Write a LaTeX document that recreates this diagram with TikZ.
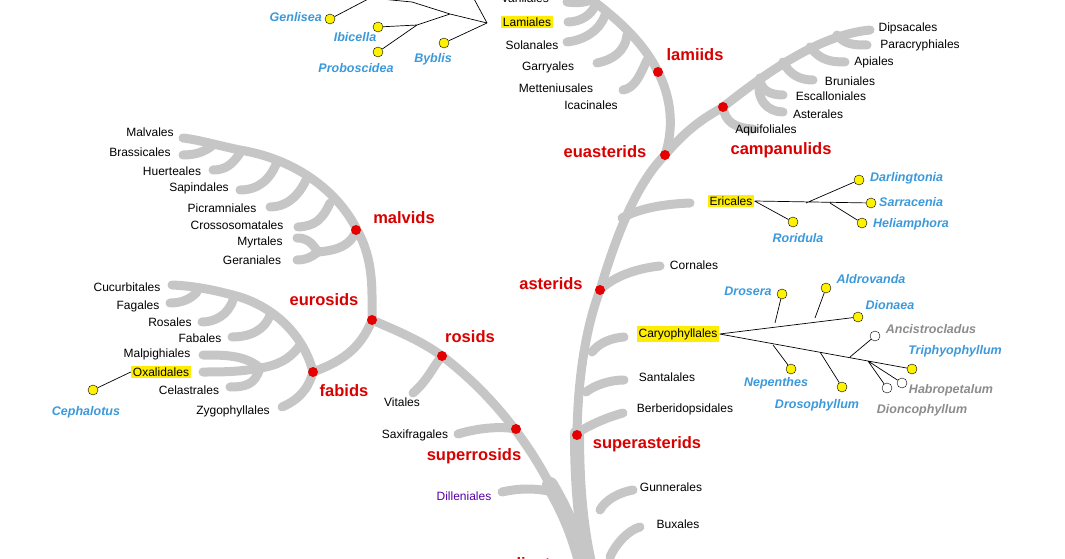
\documentclass[tikz,border=0pt]{standalone}
\usepackage{fontspec}
\setmainfont{Liberation Sans}
\begin{document}
\begin{tikzpicture}[x=1pt,y=-1pt,
  br/.style={draw=gray!45,line width=9pt,line cap=round,line join=round},
  lab/.style={font=\fontsize{12}{14}\selectfont,inner sep=1pt},
  hl/.style={lab,fill=yellow!95!orange,inner sep=2pt},
  cl/.style={font=\bfseries\fontsize{16.5}{18}\selectfont,text=red!85!black},
  sp/.style={font=\bfseries\itshape\fontsize{12.5}{14}\selectfont,text=cyan!70!blue!80!white,inner sep=1pt},
  sg/.style={sp,text=gray!90},
  rd/.style={circle,fill=red!90!black,inner sep=0pt,minimum size=10pt},
  yd/.style={circle,draw=black,fill=yellow,inner sep=0pt,minimum size=10pt},
  wd/.style={circle,draw=black,fill=white,inner sep=0pt,minimum size=10pt},
  tl/.style={draw=black,line width=0.7pt}]
\useasboundingbox (0,0) rectangle (1065,559);
\clip (0,0) rectangle (1065,559);
% ---------- gray tree ----------
\draw[br,line width=16pt] (585,575) .. controls (578,540) and (565,510) .. (550,485);
\draw[br] (550,485) .. controls (535,455) and (500,400) .. (442,356) .. controls (420,340) and (395,330) .. (372,320);
\draw[br,line width=14pt] (592,575) .. controls (580,530) and (577,480) .. (577,433);
\draw[br] (577,433) .. controls (578,380) and (585,330) .. (600,290) .. controls (615,240) and (635,185) .. (665,155);
\draw[br] (665,155) .. controls (675,125) and (670,95) .. (658,72) .. controls (645,45) and (620,20) .. (585,-5);
\draw[br] (665,155) .. controls (690,125) and (710,115) .. (723,107) .. controls (770,70) and (820,35) .. (870,30);
% campanulid branches
\draw[br] (837,35) .. controls (845,45) and (855,45) .. (867,45);
\draw[br] (810,47) .. controls (820,60) and (830,62) .. (845,62);
\draw[br] (783,62) .. controls (790,75) and (800,80) .. (813,80);
\draw[br] (760,78) .. controls (760,90) and (770,95) .. (783,95);
\draw[br] (760,78) .. controls (755,100) and (768,112) .. (783,112);
\draw[br] (723,107) .. controls (725,122) and (735,128) .. (753,129);
% lamiid branches
\draw[br] (647,60) .. controls (640,75) and (635,88) .. (623,90);
\draw[br] (627,35) .. controls (625,52) and (612,60) .. (597,63);
\draw[br] (605,15) .. controls (600,30) and (585,40) .. (567,42);
\draw[br] (595,5) .. controls (592,15) and (580,22) .. (568,22);
\draw[br] (590,0) .. controls (585,3) and (575,3) .. (567,2);
% asterid side branches
\draw[br] (622,218) .. controls (640,208) and (665,204) .. (690,203);
\draw[br] (600,290) .. controls (615,275) and (640,268) .. (660,266);
\draw[br] (592,352) .. controls (600,342) and (612,338) .. (624,337);
\draw[br] (586,392) .. controls (595,385) and (610,380) .. (624,380);
\draw[br] (577,433) .. controls (590,425) and (605,418) .. (623,413);
\draw[br] (600,510) .. controls (605,500) and (620,492) .. (633,490);
\draw[br] (610,557) .. controls (615,545) and (628,530) .. (640,527);
% rosid side branches
\draw[br] (553,492) .. controls (535,488) and (520,488) .. (502,492);
\draw[br] (516,429) .. controls (500,426) and (478,428) .. (458,434);
\draw[br] (442,356) .. controls (432,368) and (428,380) .. (413,393);
% eurosids
\draw[br] (372,320) .. controls (372,290) and (374,260) .. (357,230) .. controls (340,195) and (300,160) .. (240,150) .. controls (220,146) and (200,140) .. (183,138);
\draw[br] (213,145) .. controls (205,152) and (195,155) .. (183,155);
\draw[br] (240,153) .. controls (232,165) and (225,170) .. (213,170);
\draw[br] (277,162) .. controls (270,180) and (258,190) .. (240,190);
\draw[br] (307,178) .. controls (298,198) and (285,207) .. (270,207);
\draw[br] (330,203) .. controls (322,220) and (315,226) .. (298,227);
\draw[br] (357,230) .. controls (350,245) and (340,250) .. (318,252);
\draw[br] (318,252) .. controls (310,240) and (305,238) .. (297,238);
\draw[br] (318,252) .. controls (310,258) and (305,260) .. (297,260);
% fabids
\draw[br] (372,320) .. controls (360,350) and (340,362) .. (313,372);
\draw[br] (313,372) .. controls (305,340) and (280,310) .. (240,297) .. controls (215,290) and (195,286) .. (172,285);
\draw[br] (197,292) .. controls (190,300) and (180,303) .. (170,303);
\draw[br] (233,300) .. controls (228,315) and (215,322) .. (202,322);
\draw[br] (270,315) .. controls (265,330) and (250,337) .. (232,337);
\draw[br] (300,345) .. controls (290,360) and (275,366) .. (260,368);
\draw[br] (260,368) .. controls (245,355) and (225,355) .. (203,355);
\draw[br] (260,368) .. controls (240,372) and (220,372) .. (203,372);
\draw[br] (260,368) .. controls (255,385) and (245,387) .. (230,387);
\draw[br] (313,372) .. controls (308,390) and (298,400) .. (282,407);
% ---------- red nodes ----------
\node[rd] (d1) at (658,72) {};
\node[rd] (d2) at (723,107) {};
\node[rd] (d3) at (665,155) {};
\node[rd] (d4) at (600,290) {};
\node[rd] (d5) at (577,435) {};
\node[rd] (d6) at (516,429) {};
\node[rd] (d7) at (442,356) {};
\node[rd] (d8) at (372,320) {};
\node[rd] (d9) at (356,230) {};
\node[rd] (d10) at (313,372) {};
\node[cl] (lamiids) at (695,55) {lamiids};
\node[cl] (euasterids) at (605,152) {euasterids};
\node[cl] (campanulids) at (781,150) {campanulids};
\node[cl] (asterids) at (551,284) {asterids};
\node[cl] (malvids) at (404,218) {malvids};
\node[cl] (eurosids) at (324,300) {eurosids};
\node[cl] (rosids) at (470,337) {rosids};
\node[cl] (fabids) at (344,391) {fabids};
\node[cl] (superrosids) at (474,456) {superrosids};
\node[cl] (superasterids) at (647,444) {superasterids};
\node[cl] (core) at (506,564) {core eudicots};
% ---------- order labels ----------
\node[lab] (malvales) at (150,132) {Malvales};
\node[lab] (brassicales) at (140,152) {Brassicales};
\node[lab] (huerteales) at (172,171) {Huerteales};
\node[lab] (sapindales) at (199,188) {Sapindales};
\node[lab] (picramniales) at (222,208) {Picramniales};
\node[lab] (crossosomatales) at (237,225) {Crossosomatales};
\node[lab] (myrtales) at (260,242) {Myrtales};
\node[lab] (geraniales) at (252,260) {Geraniales};
\node[lab] (cucurbitales) at (127,287) {Cucurbitales};
\node[lab] (fagales) at (138,306) {Fagales};
\node[lab] (rosales) at (170,322) {Rosales};
\node[lab] (fabales) at (200,338) {Fabales};
\node[lab] (malpighiales) at (157,354) {Malpighiales};
\node[hl] (oxalidales) at (161,372) {Oxalidales};
\node[lab] (celastrales) at (189,390) {Celastrales};
\node[lab] (zygophyllales) at (233,411) {Zygophyllales};
\node[lab] (vitales) at (402,402) {Vitales};
\node[lab] (saxifragales) at (415,435) {Saxifragales};
\node[lab,text=violet!70!blue] (dilleniales) at (464,496) {Dilleniales};
\node[lab] (gunnerales) at (671,487) {Gunnerales};
\node[lab] (buxales) at (678,524) {Buxales};
\node[lab] (berberidopsidales) at (685,409) {Berberidopsidales};
\node[lab] (santalales) at (667,377) {Santalales};
\node[hl] (caryophyllales) at (678,334) {Caryophyllales};
\node[lab] (cornales) at (694,265) {Cornales};
\node[hl] (ericales) at (731,201) {Ericales};
\node[lab] (icacinales) at (591,105) {Icacinales};
\node[lab] (metteniusales) at (556,88) {Metteniusales};
\node[lab] (garryales) at (548,67) {Garryales};
\node[lab] (solanales) at (532,45) {Solanales};
\node[hl] (lamiales) at (527,22) {Lamiales};
\node[lab] (vahliales) at (525,-2) {Vahliales};
\node[lab] (dipsacales) at (908,28) {Dipsacales};
\node[lab] (paracryphiales) at (920,45) {Paracryphiales};
\node[lab] (apiales) at (874,62) {Apiales};
\node[lab] (bruniales) at (850,81) {Bruniales};
\node[lab] (escalloniales) at (831,96) {Escalloniales};
\node[lab] (asterales) at (818,114) {Asterales};
\node[lab] (aquifoliales) at (766,130) {Aquifoliales};
% ---------- Lamiales carnivores ----------
\coordinate (j0) at (487,23);
\coordinate (ja) at (450,14);
\coordinate (jb) at (412,2);
\coordinate (jc) at (417,25);
\coordinate (jt1) at (473,-3);
\coordinate (jt2) at (360,-3);
\coordinate (jt3) at (372,-3);
\node[yd] (genlisea) at (330,19) {};
\node[yd] (ibicella) at (378,27) {};
\node[yd] (proboscidea) at (378,52) {};
\node[yd] (byblis) at (444,43) {};
\draw[tl] (j0) -- (jt1) (j0) -- (ja) -- (jb) -- (jt2) (ja) -- (jc) -- (ibicella) (jc) -- (proboscidea) (j0) -- (byblis) (genlisea) -- (jt3);
\node[sp,anchor=east] at (323,17) {Genlisea};
\node[sp] at (355,37) {Ibicella};
\node[sp] at (356,68) {Proboscidea};
\node[sp] at (433,59) {Byblis};
% ---------- Ericales carnivores ----------
\coordinate (e1) at (806,203);
\coordinate (e2) at (830,203);
\node[yd] (darlingtonia) at (859,180) {};
\node[yd] (sarracenia) at (871,203) {};
\node[yd] (heliamphora) at (862,223) {};
\node[yd] (roridula) at (793,222) {};
\draw[tl] (ericales.east) -- (sarracenia) (e1) -- (darlingtonia) (e2) -- (heliamphora) (ericales.east) -- (roridula);
\node[sp,anchor=west] at (869,178) {Darlingtonia};
\node[sp,anchor=west] at (878,202) {Sarracenia};
\node[sp,anchor=west] at (872,224) {Heliamphora};
\node[sp] at (798,238) {Roridula};
% ---------- Caryophyllales carnivores ----------
\coordinate (c1) at (775,323);
\coordinate (c2) at (815,318);
\coordinate (c3) at (773,345);
\coordinate (c4) at (820,352);
\coordinate (c5) at (850,357);
\coordinate (c6) at (868,361);
\node[yd] (drosera) at (782,294) {};
\node[yd] (aldrovanda) at (826,288) {};
\node[yd] (dionaea) at (858,317) {};
\node[wd] (ancistrocladus) at (875,336) {};
\node[yd] (triphyophyllum) at (912,369) {};
\node[yd] (nepenthes) at (791,369) {};
\node[yd] (drosophyllum) at (842,387) {};
\node[wd] (habropetalum) at (902,383) {};
\node[wd] (dioncophyllum) at (887,388) {};
\draw[tl] (caryophyllales.east) -- (dionaea) (c1) -- (drosera) (c2) -- (aldrovanda)
  (caryophyllales.east) -- (triphyophyllum) (c3) -- (nepenthes) (c4) -- (drosophyllum)
  (c5) -- (ancistrocladus) (c6) -- (habropetalum) (c6) -- (dioncophyllum);
\node[sp] at (748,291) {Drosera};
\node[sp] at (871,279) {Aldrovanda};
\node[sp] at (890,305) {Dionaea};
\node[sg] at (931,329) {Ancistrocladus};
\node[sp] at (955,351) {Triphyophyllum};
\node[sp] at (776,383) {Nepenthes};
\node[sp] at (817,405) {Drosophyllum};
\node[sg] at (951,390) {Habropetalum};
\node[sg] at (922,410) {Dioncophyllum};
% ---------- Oxalidales carnivore ----------
\node[yd] (cephalotus) at (93,390) {};
\draw[tl] (oxalidales.west) -- (cephalotus);
\node[sp] at (86,412) {Cephalotus};
\end{tikzpicture}
\end{document}
